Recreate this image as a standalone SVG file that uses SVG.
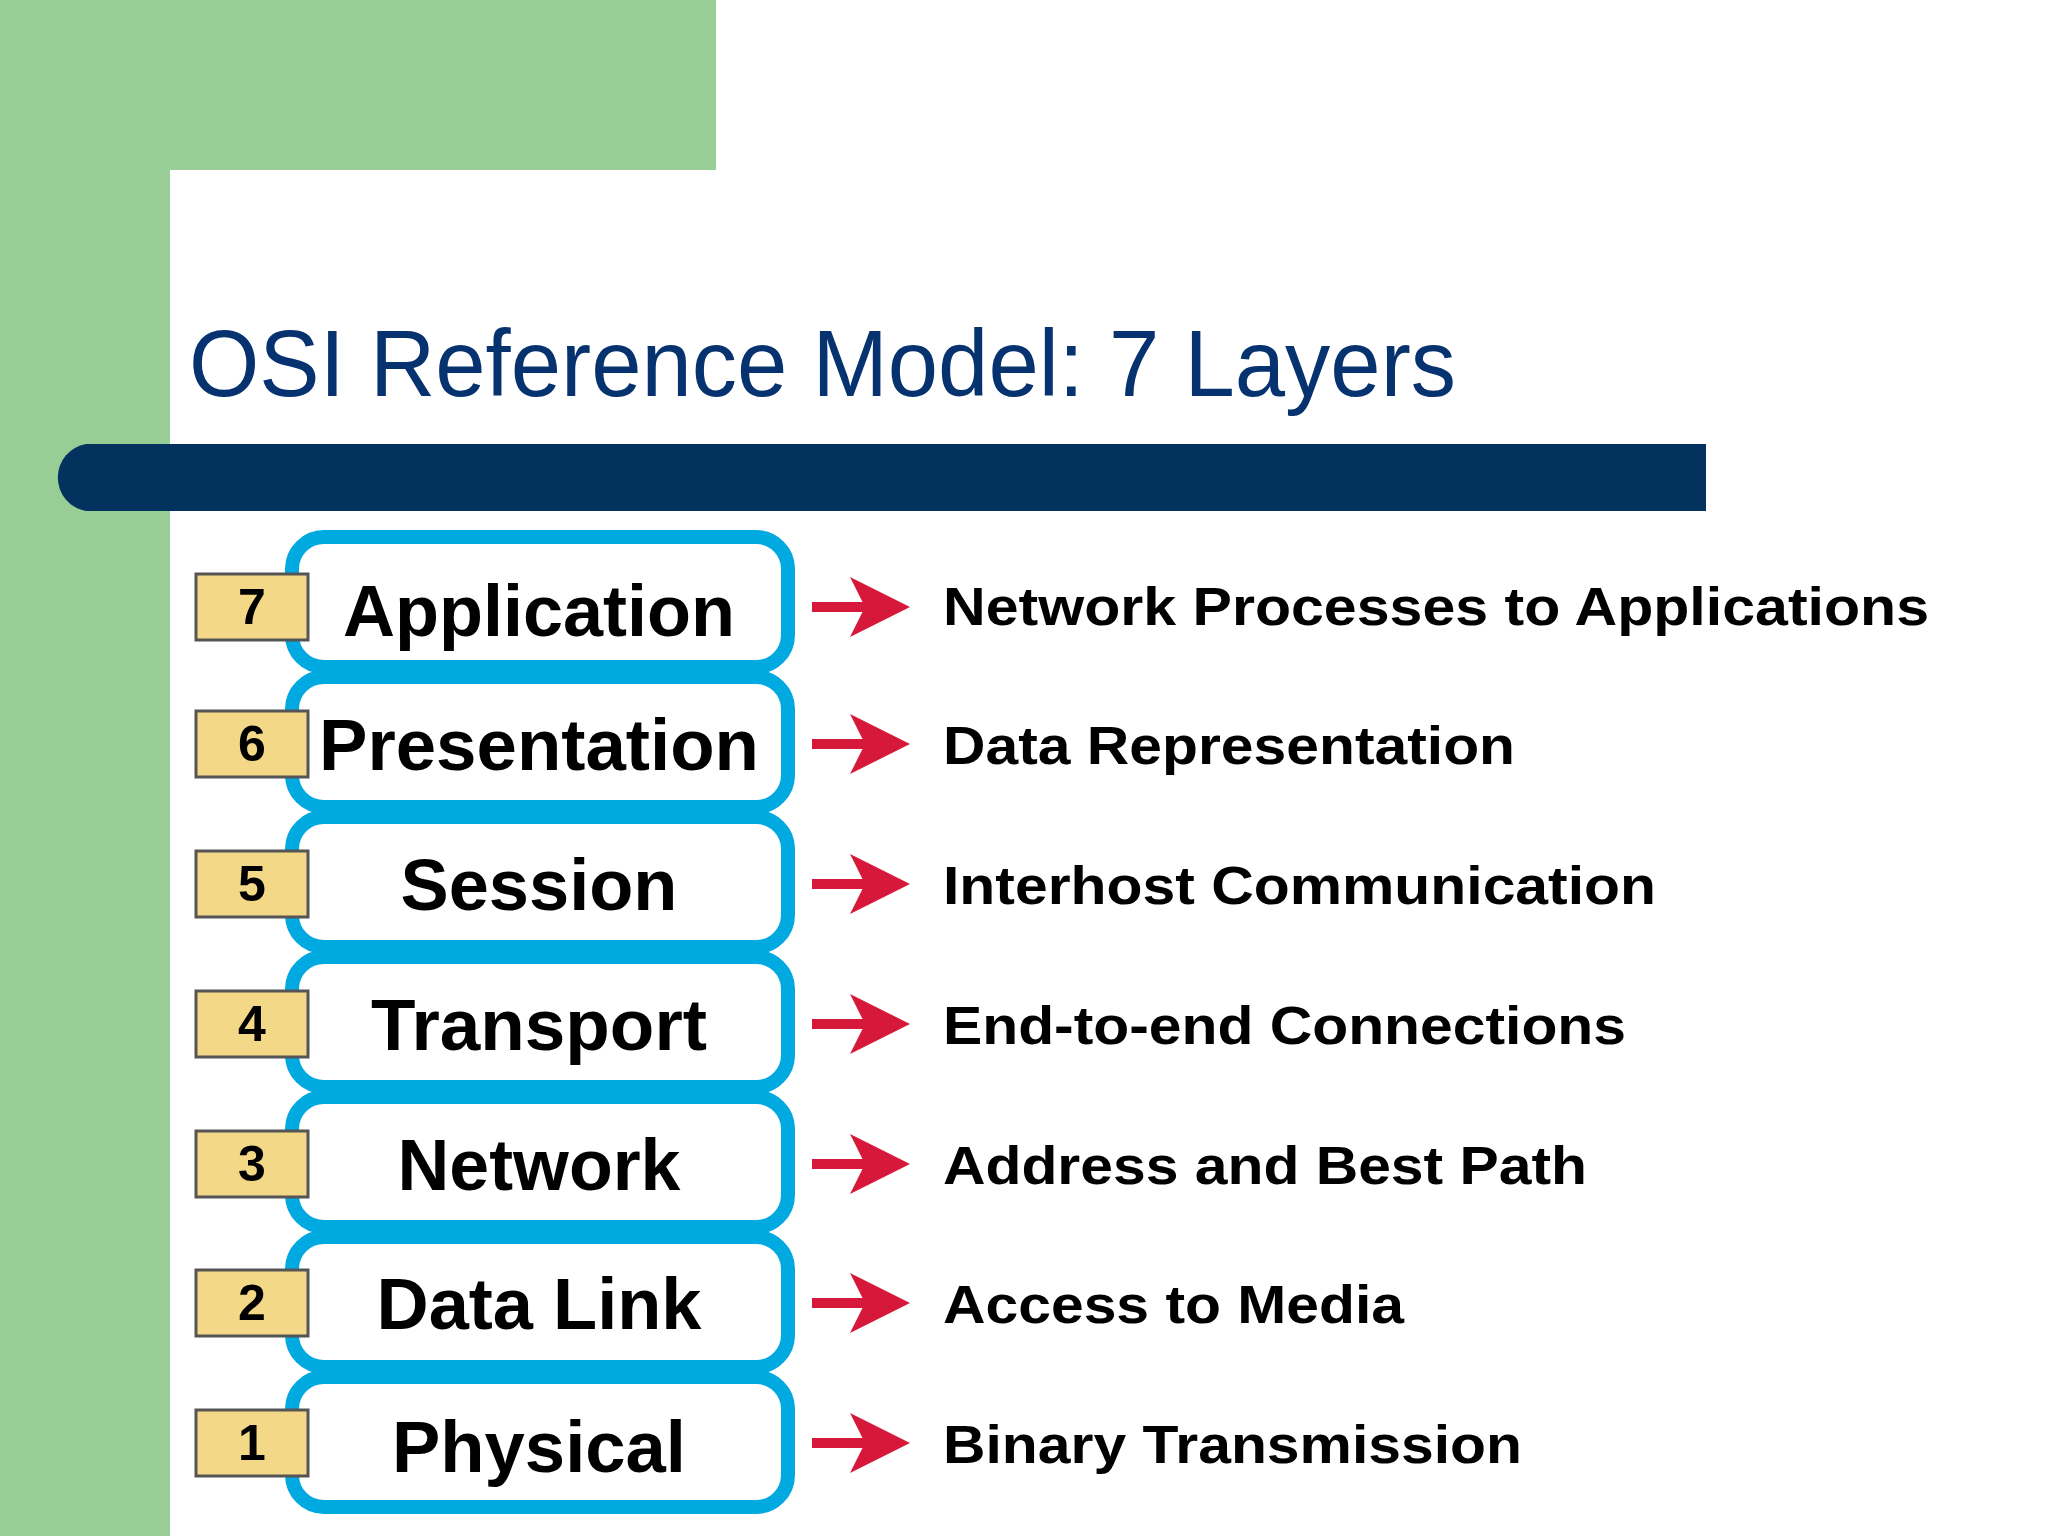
<svg xmlns="http://www.w3.org/2000/svg" width="2048" height="1536" viewBox="0 0 2048 1536">
<style>
.lay{fill:#fff;stroke:#00a9e0;stroke-width:14}
.num{fill:#f2d887;stroke:#555;stroke-width:3}
.nt{font-family:"Liberation Sans",Arial,sans-serif;font-weight:bold;font-size:50px;text-anchor:middle;fill:#000}
.lt{font-family:"Liberation Sans",Arial,sans-serif;font-weight:bold;font-size:72px;text-anchor:middle;fill:#000}
.dt{font-family:"Liberation Sans",Arial,sans-serif;font-weight:bold;font-size:54px;fill:#000}
.arr{stroke:#d6193a;stroke-width:10;fill:none}
</style>
<defs>
<marker id="ah" markerWidth="6" markerHeight="6" refX="5" refY="3" orient="auto" markerUnits="strokeWidth"><path d="M0,0 L6,3 L0,6 L1.5,3 Z" fill="#d6193a"/></marker>
</defs>
<rect width="2048" height="1536" fill="#fff"/>
<rect x="0" y="0" width="716" height="170" fill="#99cd96"/>
<rect x="0" y="0" width="170" height="1536" fill="#99cd96"/>
<path d="M170,235 A65,65 0 0 1 235,170 L716,170 L716,235 Z" fill="#fff"/>
<rect x="170" y="200" width="546" height="1336" fill="#fff"/>
<text x="189" y="396" font-family="'Liberation Sans',Arial,sans-serif" font-size="94" fill="#073270" textLength="1267" lengthAdjust="spacingAndGlyphs">OSI Reference Model: 7 Layers</text>
<path d="M86,444 L1706,444 L1706,511 L86,511 A34,34 0 0 1 86,444 Z" fill="#04325f"/>
<g id="layer7"><rect class="lay" x="292" y="537" width="496" height="130" rx="32"/><rect class="num" x="196" y="574" width="112" height="66"/><text class="nt" x="252" y="624">7</text><text class="lt" x="539" y="636" textLength="392" lengthAdjust="spacingAndGlyphs">Application</text><text class="dt" x="943" y="625" textLength="986" lengthAdjust="spacingAndGlyphs">Network Processes to Applications</text></g>
<g id="layer6"><rect class="lay" x="292" y="677" width="496" height="130" rx="32"/><rect class="num" x="196" y="711" width="112" height="66"/><text class="nt" x="252" y="761">6</text><text class="lt" x="539" y="770" textLength="440" lengthAdjust="spacingAndGlyphs">Presentation</text><text class="dt" x="943" y="764" textLength="572" lengthAdjust="spacingAndGlyphs">Data Representation</text></g>
<g id="layer5"><rect class="lay" x="292" y="817" width="496" height="130" rx="32"/><rect class="num" x="196" y="851" width="112" height="66"/><text class="nt" x="252" y="901">5</text><text class="lt" x="539" y="910" textLength="277" lengthAdjust="spacingAndGlyphs">Session</text><text class="dt" x="943" y="904" textLength="713" lengthAdjust="spacingAndGlyphs">Interhost Communication</text></g>
<g id="layer4"><rect class="lay" x="292" y="957" width="496" height="130" rx="32"/><rect class="num" x="196" y="991" width="112" height="66"/><text class="nt" x="252" y="1041">4</text><text class="lt" x="539" y="1050" textLength="336" lengthAdjust="spacingAndGlyphs">Transport</text><text class="dt" x="943" y="1044" textLength="683" lengthAdjust="spacingAndGlyphs">End-to-end Connections</text></g>
<g id="layer3"><rect class="lay" x="292" y="1097" width="496" height="130" rx="32"/><rect class="num" x="196" y="1131" width="112" height="66"/><text class="nt" x="252" y="1181">3</text><text class="lt" x="539" y="1190" textLength="283" lengthAdjust="spacingAndGlyphs">Network</text><text class="dt" x="943" y="1184" textLength="644" lengthAdjust="spacingAndGlyphs">Address and Best Path</text></g>
<g id="layer2"><rect class="lay" x="292" y="1237" width="496" height="130" rx="32"/><rect class="num" x="196" y="1270" width="112" height="66"/><text class="nt" x="252" y="1320">2</text><text class="lt" x="539" y="1329" textLength="325" lengthAdjust="spacingAndGlyphs">Data Link</text><text class="dt" x="943" y="1323" textLength="461" lengthAdjust="spacingAndGlyphs">Access to Media</text></g>
<g id="layer1"><rect class="lay" x="292" y="1377" width="496" height="130" rx="32"/><rect class="num" x="196" y="1410" width="112" height="66"/><text class="nt" x="252" y="1460">1</text><text class="lt" x="539" y="1472" textLength="294" lengthAdjust="spacingAndGlyphs">Physical</text><text class="dt" x="943" y="1463" textLength="579" lengthAdjust="spacingAndGlyphs">Binary Transmission</text></g>
<g id="connectors">
<line class="arr" x1="812" y1="607" x2="900" y2="607" marker-end="url(#ah)"/>
<line class="arr" x1="812" y1="744" x2="900" y2="744" marker-end="url(#ah)"/>
<line class="arr" x1="812" y1="884" x2="900" y2="884" marker-end="url(#ah)"/>
<line class="arr" x1="812" y1="1024" x2="900" y2="1024" marker-end="url(#ah)"/>
<line class="arr" x1="812" y1="1164" x2="900" y2="1164" marker-end="url(#ah)"/>
<line class="arr" x1="812" y1="1303" x2="900" y2="1303" marker-end="url(#ah)"/>
<line class="arr" x1="812" y1="1443" x2="900" y2="1443" marker-end="url(#ah)"/>
</g>
</svg>
